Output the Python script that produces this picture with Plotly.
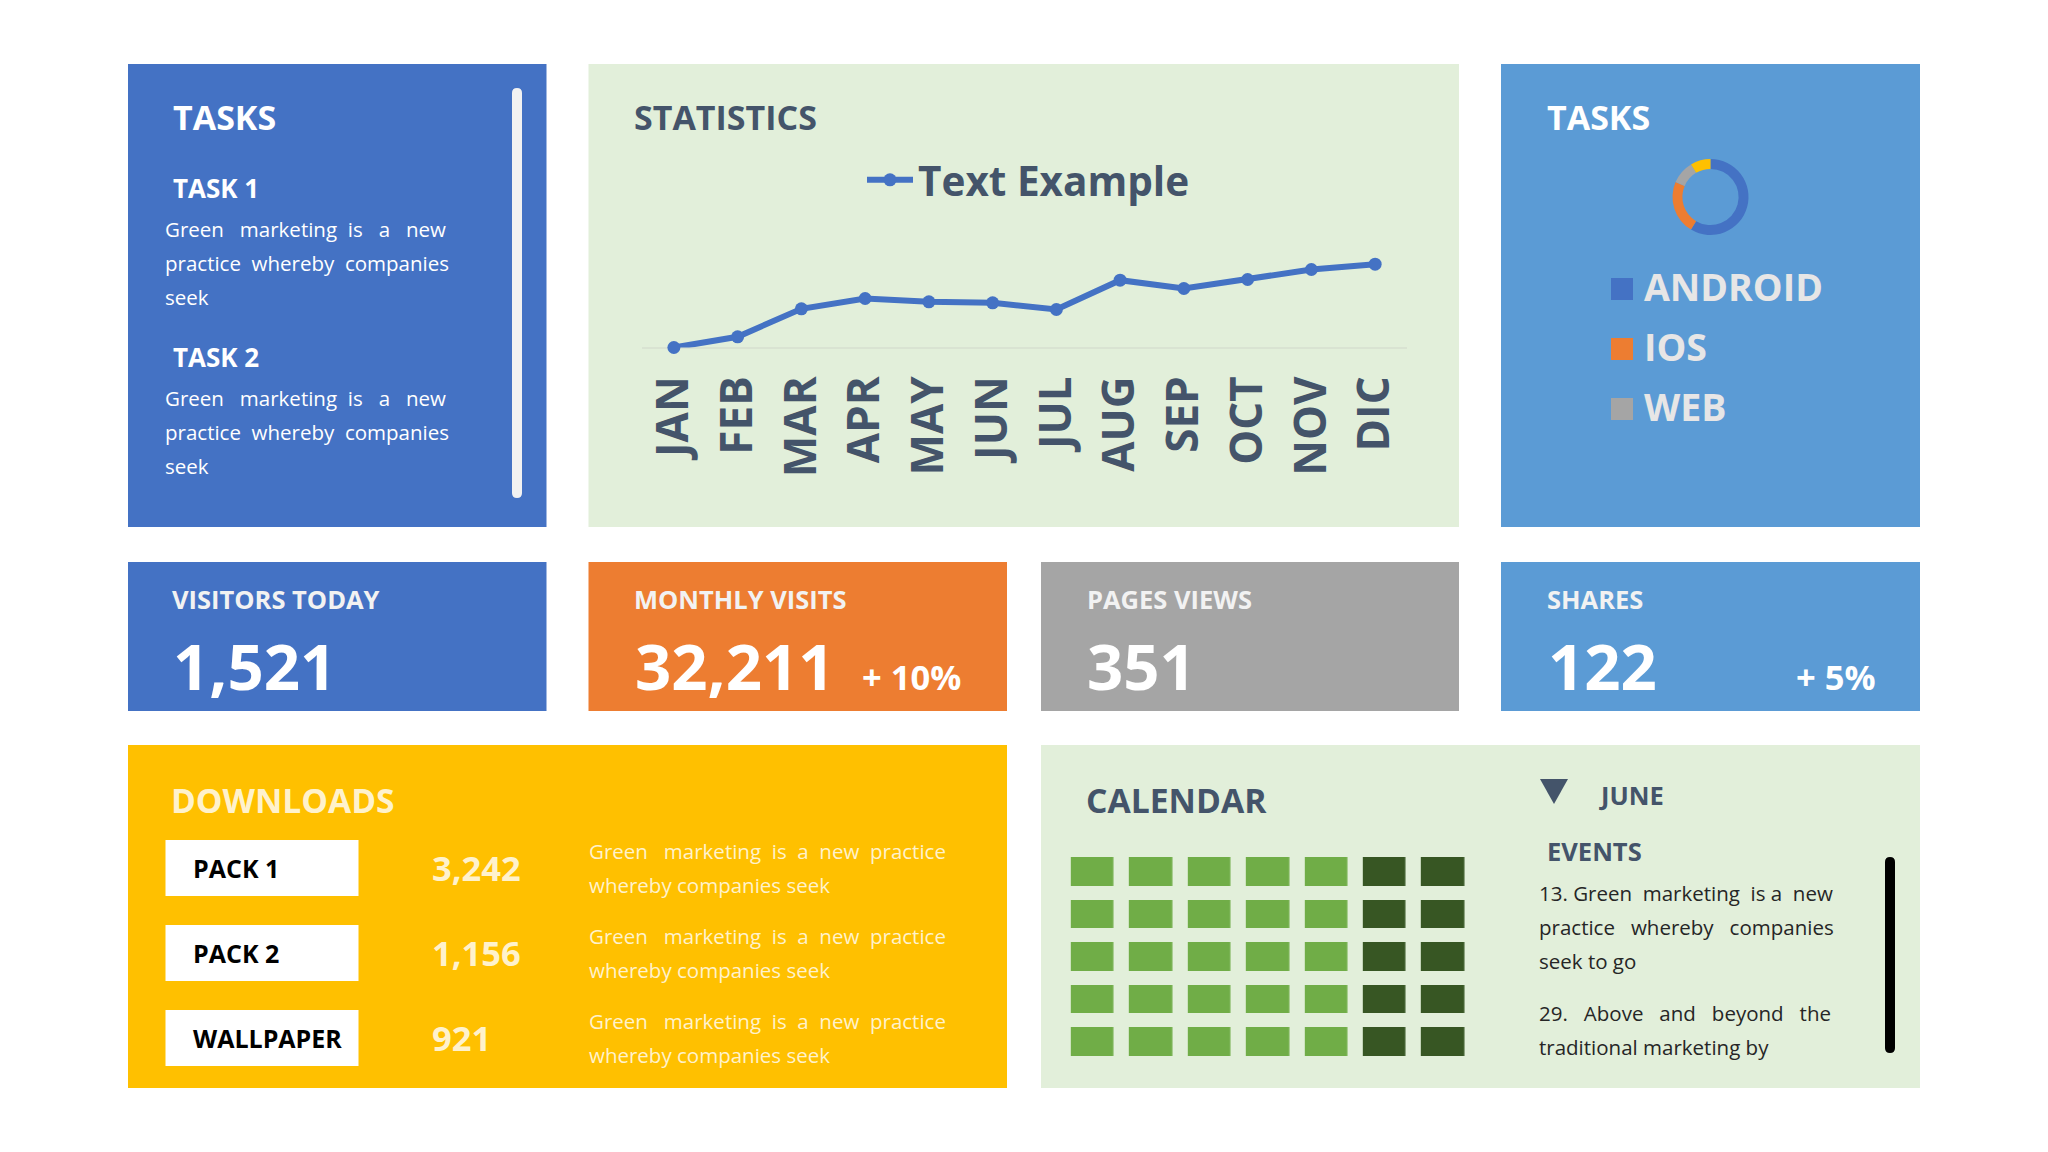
import plotly.graph_objects as go

W, H = 2048, 1152
FONT = "Open Sans"
INK = "#44546A"
BLUE = "#4472C4"
SKY = "#5B9BD5"
ORANGE = "#ED7D31"
GREY = "#A5A5A5"
GOLD = "#FFC000"
MINT = "#E2EFDA"

months = ["JAN", "FEB", "MAR", "APR", "MAY", "JUN", "JUL", "AUG", "SEP", "OCT", "NOV", "DIC"]
visits = [0, 10.7, 38.7, 49, 45.7, 44.7, 38, 67.3, 59, 68, 78, 83.3]

platforms = ["ANDROID", "IOS", "WEB", "OTHER"]
platform_share = [8.2, 3.2, 1.4, 1.2]
platform_colors = [BLUE, ORANGE, GREY, GOLD]

calendar_days = [0, 1, 2, 3, 4, 5, 6]
calendar_weeks = [0, 1, 2, 3, 4]
calendar_state = [[1, 1, 1, 1, 1, 2, 2] for _ in calendar_weeks]

panels = [
    (128, 64, 546.5, 527, BLUE), (588.5, 64, 1459, 527, MINT), (1501, 64, 1920, 527, SKY),
    (128, 562, 546.5, 711, BLUE), (588.5, 562, 1007, 711, ORANGE), (1041, 562, 1459, 711, GREY),
    (1501, 562, 1920, 711, SKY), (128, 745, 1007, 1088, GOLD), (1041, 745, 1920, 1088, MINT),
]
stat_cards = [
    ("VISITORS TODAY", "1,521", "", 172, 173, 0),
    ("MONTHLY VISITS", "32,211", "+ 10%", 634, 635, 862),
    ("PAGES VIEWS", "351", "", 1087, 1087, 0),
    ("SHARES", "122", "+ 5%", 1547, 1548, 1796),
]
download_items = [("PACK 1", "3,242"), ("PACK 2", "1,156"), ("WALLPAPER", "921")]


def px(x):
    return x / W


def py(y):
    return 1 - y / H


fig = go.Figure()

fig.add_trace(go.Scatter(
    x=months, y=visits, name="Text Example", mode="lines+markers",
    line=dict(color=BLUE, width=6), marker=dict(color=BLUE, size=13),
    cliponaxis=False, xaxis="x", yaxis="y",
))

fig.add_trace(go.Pie(
    labels=platforms, values=platform_share, sort=False, direction="clockwise", rotation=0,
    hole=0.74, textinfo="none", showlegend=False,
    marker=dict(colors=platform_colors, line=dict(width=0)),
    domain=dict(x=[px(1672.5), px(1748.5)], y=[py(235), py(159)]),
))

fig.add_trace(go.Heatmap(
    x=calendar_days, y=calendar_weeks, z=calendar_state, xgap=15.4, ygap=14,
    colorscale=[[0, "#70AD47"], [1, "#375623"]], zmin=1, zmax=2, showscale=False,
    xaxis="x2", yaxis="y2",
))

shapes = []
for x0, y0, x1, y1, c in panels:
    shapes.append(dict(type="rect", xref="paper", yref="paper", x0=px(x0), x1=px(x1), y0=py(y0), y1=py(y1),
                       fillcolor=c, line_width=0, layer="below"))


def pill(x0, y0, x1, y1, color):
    r = (x1 - x0) / 2
    xm = (x0 + x1) / 2
    path = (f"M {px(x0)} {py(y0 + r)} Q {px(x0)} {py(y0)} {px(xm)} {py(y0)} "
            f"Q {px(x1)} {py(y0)} {px(x1)} {py(y0 + r)} L {px(x1)} {py(y1 - r)} "
            f"Q {px(x1)} {py(y1)} {px(xm)} {py(y1)} Q {px(x0)} {py(y1)} {px(x0)} {py(y1 - r)} Z")
    return dict(type="path", xref="paper", yref="paper", path=path, fillcolor=color, line_width=0, layer="below")


shapes.append(pill(512, 88, 522, 498, "#F2F2F2"))
shapes.append(pill(1885, 857, 1895, 1053, "#000000"))
shapes.append(dict(type="path", xref="paper", yref="paper",
                   path=f"M {px(1540)} {py(779)} L {px(1568)} {py(779)} L {px(1554)} {py(804)} Z",
                   fillcolor=INK, line_width=0, layer="below"))
for i, c in enumerate(platform_colors[:3]):
    shapes.append(dict(type="rect", xref="paper", yref="paper", x0=px(1611), x1=px(1633),
                       y0=py(278 + 60 * i), y1=py(300 + 60 * i), fillcolor=c, line_width=0, layer="below"))
for i in range(3):
    shapes.append(dict(type="rect", xref="paper", yref="paper", x0=px(165.5), x1=px(358.5),
                       y0=py(840 + 85 * i), y1=py(896 + 85 * i), fillcolor="#FFFFFF", line_width=0, layer="below"))

annotations = []


def label(text, x, y, size, color="#FFFFFF", bold=True):
    annotations.append(dict(
        text=text, x=px(x), y=py(y), xref="paper", yref="paper", xanchor="left", yanchor="middle",
        showarrow=False, borderpad=0, borderwidth=0,
        font=dict(family=FONT, size=size, color=color, weight="bold" if bold else "normal"),
    ))


label("TASKS", 173, 117, 34)
for base, head, name in ((229, 188, "TASK 1"), (398, 356.5, "TASK 2")):
    label(name, 173, head, 26)
    label("Green   marketing  is   a   new", 165, base, 20.5, bold=False)
    label("practice  whereby  companies", 165, base + 34, 20.5, bold=False)
    label("seek", 165, base + 68, 20.5, bold=False)

label("STATISTICS", 634, 117, 34, INK)
label("TASKS", 1547, 117, 34)
for i, name in enumerate(platforms[:3]):
    label(name, 1644, 286.5 + 60 * i, 37.5, "#E7E6E6")

for title, value, delta, tx, vx, dx in stat_cards:
    label(title, tx, 598.5, 25.5, "#F2F2F2")
    label(value, vx, 665, 63.5)
    if delta:
        label(delta, dx, 676, 34.5)

label("DOWNLOADS", 171, 800, 33.6, "#FFF2CC")
for i, (name, count) in enumerate(download_items):
    label(name, 193, 868 + 85 * i, 25, "#000000")
    label(count, 432, 867 + 85 * i, 34.5, "#FFF2CC")
    label("Green   marketing  is  a  new  practice", 589, 851 + 85 * i, 20.5, "#FFF2CC", bold=False)
    label("whereby companies seek", 589, 885 + 85 * i, 20.5, "#FFF2CC", bold=False)

label("CALENDAR", 1086, 800, 33.7, INK)
label("JUNE", 1599, 795, 25.5, INK)
label("EVENTS", 1547, 851, 25.5, INK)
label("13. Green  marketing  is a  new", 1539, 893, 20.5, "#262626", bold=False)
label("practice   whereby   companies", 1539, 927, 20.5, "#262626", bold=False)
label("seek to go", 1539, 961, 20.5, "#262626", bold=False)
label("29.   Above   and   beyond   the", 1539, 1013, 20.5, "#262626", bold=False)
label("traditional marketing by", 1539, 1047, 20.5, "#262626", bold=False)

fig.update_layout(
    width=W, height=H, autosize=False, margin=dict(l=0, r=0, t=0, b=0, pad=0),
    paper_bgcolor="#FFFFFF", plot_bgcolor="rgba(0,0,0,0)", shapes=shapes, annotations=annotations,
    showlegend=True,
    legend=dict(x=px(862), y=py(180), xref="paper", yref="paper", xanchor="left", yanchor="middle",
                orientation="h", bgcolor="rgba(0,0,0,0)", itemwidth=46,
                font=dict(family=FONT, size=40.5, color=INK, weight="bold")),
    xaxis=dict(domain=[px(642), px(1407)], type="category", categoryorder="array", categoryarray=months,
               range=[-0.5, 11.5], showgrid=False, zeroline=False, showline=False, ticks="", tickangle=-90,
               ticklabelstandoff=19, tickfont=dict(family=FONT, size=44, color=INK, weight="bold")),
    yaxis=dict(domain=[py(347.5), py(240.5)], range=[0, 107], showticklabels=False, ticks="", showgrid=False,
               showline=False, zeroline=True, zerolinecolor="#D9E3D2", zerolinewidth=2),
    xaxis2=dict(domain=[px(1063.8), px(1472.6)], range=[-0.5, 6.5], visible=False, anchor="y2"),
    yaxis2=dict(domain=[py(1062.5), py(850)], range=[4.5, -0.5], visible=False, anchor="x2"),
    hovermode=False,
)

fig.write_html("out.html", config=dict(displayModeBar=False),
               post_script="document.body.style.margin='0';document.body.style.overflow='hidden';")
